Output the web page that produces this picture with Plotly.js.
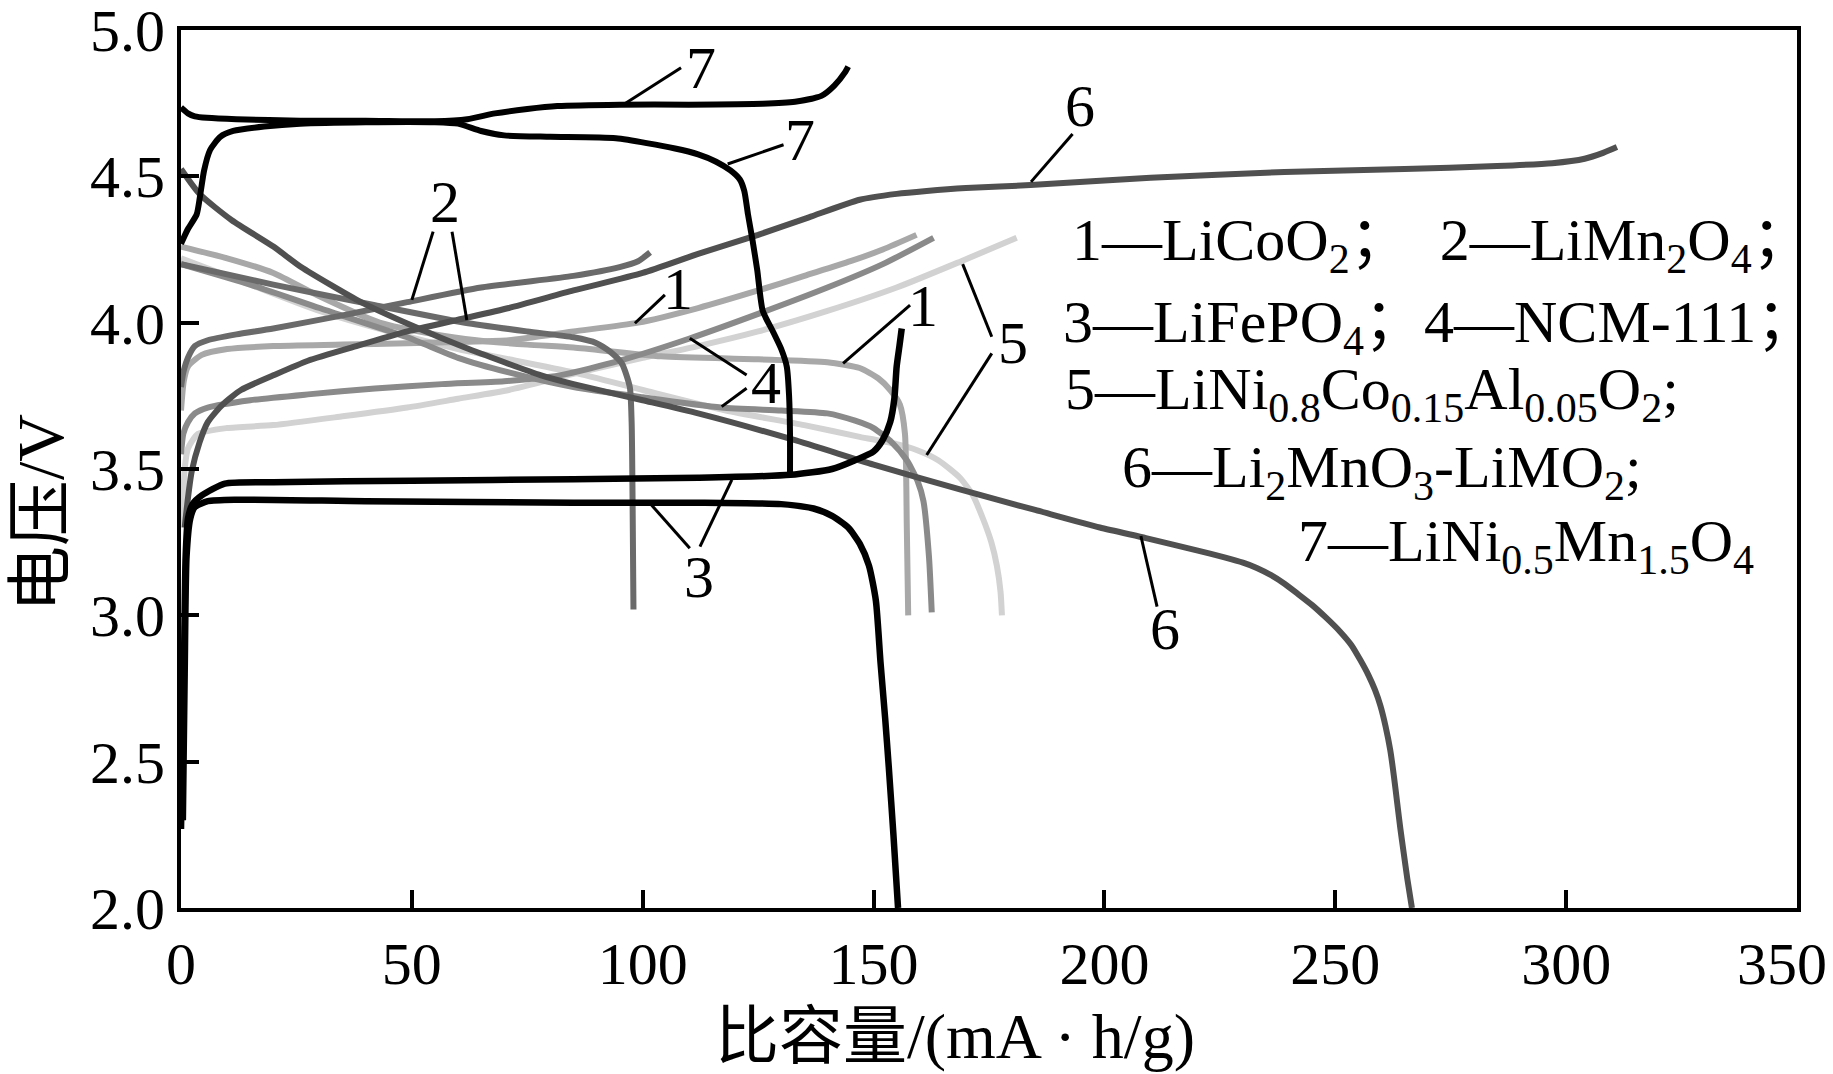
<!DOCTYPE html>
<html>
<head>
<meta charset="utf-8">
<script src="https://cdn.plot.ly/plotly-3.0.1.min.js"></script>
<style>html,body{margin:0;padding:0;background:#fff;}#chart{width:1833px;height:1074px;}</style>
</head>
<body>
<div id="chart"></div>
<script>
// ---- tick labels ----
const xTickVals = [0, 50, 100, 150, 200, 250, 300, 350];
const xTickText = ['0', '50', '100', '150', '200', '250', '300', '350\u00a0\u00a0'];
const yTickVals = [2.0, 2.5, 3.0, 3.5, 4.0, 4.5, 5.0];
const yTickText = ['2.0', '2.5', '3.0', '3.5', '4.0', '4.5', '5.0'];
const xTitle = '比容量/(mA · h/g)';
const yTitle = '电压/V';

// ---- 1: LiCoO2 ----
const licoo2ChargeX = [0, 0.6, 1.5, 4.5, 10, 20, 35, 49, 62, 71, 85, 99, 112, 125, 135, 145, 152, 159.3];
const licoo2ChargeY = [3.70, 3.80, 3.85, 3.89, 3.91, 3.92, 3.925, 3.93, 3.935, 3.94, 3.97, 4.00, 4.05, 4.11, 4.16, 4.21, 4.25, 4.30];
const licoo2DischargeX = [0, 10, 20, 30, 43, 55, 64, 75, 85, 104, 125, 140, 147, 151, 153.6, 155.7, 156.8, 157.2, 157.5];
const licoo2DischargeY = [4.26, 4.22, 4.17, 4.09, 4.00, 3.96, 3.94, 3.925, 3.915, 3.885, 3.875, 3.865, 3.845, 3.81, 3.77, 3.72, 3.62, 3.30, 3.00];

// ---- 2: LiMn2O4 ----
const limn2o4ChargeX = [0, 0.5, 1.5, 3, 5.8, 12, 20, 35, 49, 65, 85, 95, 99, 101.6];
const limn2o4ChargeY = [3.78, 3.83, 3.88, 3.92, 3.94, 3.96, 3.98, 4.025, 4.07, 4.12, 4.16, 4.19, 4.21, 4.24];
const limn2o4DischargeX = [0, 20, 42, 61.5, 75, 85, 90, 93, 95.5, 97.2, 97.6, 97.8, 98.0];
const limn2o4DischargeY = [4.20, 4.13, 4.06, 4.00, 3.97, 3.95, 3.93, 3.90, 3.86, 3.78, 3.66, 3.40, 3.02];

// ---- 3: LiFePO4 ----
const lfpChargeX = [0, 0.3, 0.7, 1, 1.5, 2.5, 4.5, 9.5, 20, 50, 85, 112, 132, 141, 146, 150, 152, 153.6, 154.5, 155, 155.6, 156.1];
const lfpChargeY = [2.27, 2.5, 2.9, 3.2, 3.33, 3.38, 3.41, 3.45, 3.455, 3.46, 3.465, 3.47, 3.48, 3.50, 3.53, 3.56, 3.60, 3.66, 3.74, 3.85, 3.92, 3.98];
const lfpDischargeX = [0.4, 0.8, 1.2, 2, 3, 5.8, 12, 40, 85, 112, 130, 137, 141, 144.5, 147, 149, 150.5, 151.5, 152.5, 153.3, 154.3, 155.3];
const lfpDischargeY = [2.3, 2.8, 3.2, 3.33, 3.37, 3.39, 3.395, 3.39, 3.385, 3.385, 3.38, 3.365, 3.34, 3.30, 3.245, 3.17, 3.05, 2.84, 2.65, 2.48, 2.25, 2.0];

// ---- 4: NCM-111 ----
const ncmChargeX = [0, 0.5, 1.5, 3, 5.8, 15, 27.5, 42, 56.5, 70, 82, 95, 110, 125, 140, 152, 163];
const ncmChargeY = [3.55, 3.62, 3.66, 3.69, 3.71, 3.735, 3.755, 3.775, 3.79, 3.80, 3.82, 3.87, 3.945, 4.03, 4.12, 4.20, 4.29];
const ncmDischargeX = [0, 15, 30, 49, 60, 71, 85, 100, 117, 130, 140, 146, 150, 154, 157.2, 159.5, 160.8, 162, 162.6];
const ncmDischargeY = [4.20, 4.13, 4.05, 3.95, 3.88, 3.83, 3.78, 3.745, 3.71, 3.70, 3.69, 3.665, 3.64, 3.59, 3.53, 3.46, 3.39, 3.2, 3.01];

// ---- 5: NCA ----
const ncaChargeX = [0.3, 0.8, 1.5, 3.7, 10, 20, 35, 49, 60, 71, 85, 100, 112, 125, 140, 155, 169, 181];
const ncaChargeY = [3.30, 3.50, 3.57, 3.62, 3.64, 3.65, 3.68, 3.71, 3.74, 3.77, 3.825, 3.88, 3.92, 3.97, 4.04, 4.12, 4.21, 4.29];
const ncaDischargeX = [0, 15, 30, 45, 60, 85, 100, 118, 135, 147, 155, 159.3, 164, 168.7, 171.5, 173.7, 175.5, 176.7, 177.5, 177.8];
const ncaDischargeY = [4.22, 4.13, 4.04, 3.97, 3.91, 3.83, 3.77, 3.70, 3.65, 3.61, 3.585, 3.565, 3.53, 3.47, 3.41, 3.33, 3.25, 3.17, 3.08, 3.00];

// ---- 6: Li2MnO3-LiMO2 ----
const lrChargeX = [0.8, 1.5, 2.3, 4, 5.8, 9, 13, 20, 27.5, 38, 49, 60, 71, 85, 100, 112, 125, 136, 147, 155, 161.5, 170, 184, 210, 239, 265, 285, 297, 304, 308, 311];
const lrChargeY = [3.30, 3.40, 3.49, 3.59, 3.66, 3.72, 3.77, 3.82, 3.87, 3.92, 3.97, 4.01, 4.05, 4.11, 4.17, 4.235, 4.30, 4.36, 4.42, 4.44, 4.45, 4.46, 4.47, 4.495, 4.515, 4.525, 4.535, 4.545, 4.56, 4.58, 4.60];
const lrDischargeX = [0, 4, 11, 20, 26, 39, 50, 61.5, 78, 85, 100, 112, 132.6, 150, 168.7, 185, 199, 209, 220, 226, 230, 233, 236, 239, 242, 245, 248, 251, 253.5, 255.4, 257.2, 258.6, 259.8, 260.9, 261.9, 262.7, 263.4, 264.1, 264.8, 265.6, 266.6];
const lrDischargeY = [4.525, 4.44, 4.35, 4.26, 4.19, 4.07, 3.99, 3.915, 3.82, 3.79, 3.735, 3.69, 3.60, 3.515, 3.43, 3.36, 3.30, 3.264, 3.222, 3.198, 3.180, 3.162, 3.138, 3.108, 3.072, 3.035, 2.992, 2.945, 2.898, 2.848, 2.795, 2.745, 2.69, 2.62, 2.54, 2.45, 2.36, 2.27, 2.19, 2.10, 2.0];

// ---- 7: LiNi0.5Mn1.5O4 ----
const lnmoChargeX = [0, 1.5, 3, 5.6, 12, 25.8, 40, 55, 62, 68, 75, 81.5, 95, 110, 126, 133, 138.7, 141.5, 143.8, 144.5];
const lnmoChargeY = [4.735, 4.715, 4.705, 4.70, 4.695, 4.69, 4.69, 4.688, 4.695, 4.715, 4.73, 4.74, 4.745, 4.745, 4.748, 4.755, 4.775, 4.81, 4.855, 4.875];
const lnmoDischargeX = [0, 1.5, 3.4, 4.1, 5, 6.3, 8.5, 11.3, 18, 25.8, 40, 55, 60, 65, 70, 80, 94.2, 107, 112, 115.9, 119, 121, 122, 122.8, 123.8, 124.8, 126, 128.2, 130, 131.2, 131.7, 131.9, 131.9];
const lnmoDischargeY = [4.27, 4.32, 4.37, 4.43, 4.52, 4.59, 4.635, 4.655, 4.67, 4.68, 4.685, 4.685, 4.68, 4.655, 4.64, 4.635, 4.63, 4.595, 4.575, 4.55, 4.52, 4.49, 4.45, 4.37, 4.28, 4.18, 4.04, 3.97, 3.91, 3.85, 3.75, 3.62, 3.49];

// ---- legend text lines ----
const legendLines = [
  '1—LiCoO<sub>2</sub>；  2—LiMn<sub>2</sub>O<sub>4</sub>；',
  '3—LiFePO<sub>4</sub>；4—NCM-111；',
  '5—LiNi<sub>0.8</sub>Co<sub>0.15</sub>Al<sub>0.05</sub>O<sub>2</sub>;',
  '6—Li<sub>2</sub>MnO<sub>3</sub>-LiMO<sub>2</sub>;',
  '7—LiNi<sub>0.5</sub>Mn<sub>1.5</sub>O<sub>4</sub>'
];
const legendPos = [[192.5, 4.268], [190.6, 3.987], [191, 3.758], [203.4, 3.492], [241.5, 3.24]];

// ---- curve labels and leaders ----
const labelTexts = ['7', '7', '6', '2', '1', '1', '4', '5', '3', '6'];
const labelPos = [[112.6, 4.87], [134.1, 4.624], [194.7, 4.742], [57.2, 4.411], [107.7, 4.114], [160.8, 4.058], [126.7, 3.793], [180.1, 3.932], [112.2, 3.13], [213.1, 2.952]];
const leaders = [
  [96.2, 4.749, 108.3, 4.871],
  [118.4, 4.542, 130.5, 4.608],
  [184.1, 4.481, 193.1, 4.645],
  [50.0, 4.078, 54.6, 4.311],
  [61.9, 4.009, 58.7, 4.311],
  [98.3, 3.998, 104.8, 4.095],
  [143.4, 3.861, 157.9, 4.06],
  [110.2, 3.947, 122.5, 3.821],
  [117.1, 3.713, 122.5, 3.776],
  [169.3, 4.2, 175.6, 3.952],
  [175.6, 3.895, 161.5, 3.548],
  [101.9, 3.377, 110.2, 3.229],
  [119.3, 3.463, 112.4, 3.235],
  [207.9, 3.271, 211.4, 3.03]
];

const FONT = '"Liberation Serif", "Times New Roman", "Noto Sans CJK SC", serif';
const C1 = '#a8a8a8', C2 = '#6a6a6a', C3 = '#000000', C4 = '#8a8a8a', C5 = '#d2d2d2', C6 = '#505050', C7 = '#000000';

function tr(x, y, color, width) {
  return {x: x, y: y, type: 'scatter', mode: 'lines',
    line: {color: color, width: width, shape: 'spline', smoothing: 0.6},
    showlegend: false, hoverinfo: 'skip'};
}

const data = [
  tr(ncaChargeX, ncaChargeY, C5, 6),
  tr(ncaDischargeX, ncaDischargeY, C5, 6),
  tr(licoo2ChargeX, licoo2ChargeY, C1, 6),
  tr(licoo2DischargeX, licoo2DischargeY, C1, 6),
  tr(ncmChargeX, ncmChargeY, C4, 6),
  tr(ncmDischargeX, ncmDischargeY, C4, 6),
  tr(limn2o4ChargeX, limn2o4ChargeY, C2, 6),
  tr(limn2o4DischargeX, limn2o4DischargeY, C2, 6),
  tr(lrChargeX, lrChargeY, C6, 6),
  tr(lrDischargeX, lrDischargeY, C6, 6),
  tr(lfpChargeX, lfpChargeY, C3, 6.5),
  tr(lfpDischargeX, lfpDischargeY, C3, 6.5),
  tr(lnmoChargeX, lnmoChargeY, C7, 6),
  tr(lnmoDischargeX, lnmoDischargeY, C7, 6)
];

const shapes = leaders.map(function (l) {
  return {type: 'line', xref: 'x', yref: 'y', x0: l[0], y0: l[1], x1: l[2], y1: l[3],
    line: {color: '#000', width: 3}};
});

const annotations = [];
labelTexts.forEach(function (t, i) {
  annotations.push({x: labelPos[i][0], y: labelPos[i][1], xref: 'x', yref: 'y', text: t, showarrow: false,
    xanchor: 'center', yanchor: 'middle', font: {family: FONT, size: 60, color: '#000'}});
});
legendLines.forEach(function (t, i) {
  annotations.push({x: legendPos[i][0], y: legendPos[i][1], xref: 'x', yref: 'y', text: t, showarrow: false,
    xanchor: 'left', yanchor: 'middle', font: {family: FONT, size: 60, color: '#000'}});
});
// axis titles
annotations.push({x: 0.479, y: -0.146, xref: 'paper', yref: 'paper', text: xTitle, showarrow: false,
  xanchor: 'center', yanchor: 'middle', font: {family: FONT, size: 64, color: '#000'}});
annotations.push({x: -0.0865, y: 0.45, xref: 'paper', yref: 'paper', text: yTitle, showarrow: false,
  textangle: -90, xanchor: 'center', yanchor: 'middle', font: {family: FONT, size: 66, color: '#000'}});

const layout = {
  width: 1833, height: 1074,
  margin: {l: 181, r: 36, t: 30, b: 166},
  paper_bgcolor: '#fff', plot_bgcolor: '#fff',
  font: {family: FONT, color: '#000'},
  showlegend: false,
  xaxis: {
    range: [0, 350], tickmode: 'array', tickvals: xTickVals, ticktext: xTickText,
    ticks: 'inside', ticklen: 18, tickwidth: 4, tickcolor: '#000',
    showline: true, linewidth: 4, linecolor: '#000', mirror: true,
    showgrid: false, zeroline: false, ticklabeloverflow: 'allow',
    tickfont: {family: FONT, size: 60, color: '#000'}
  },
  yaxis: {
    range: [2, 5], tickmode: 'array', tickvals: yTickVals, ticktext: yTickText,
    ticks: 'inside', ticklen: 18, tickwidth: 4, tickcolor: '#000',
    showline: true, linewidth: 4, linecolor: '#000', mirror: true,
    showgrid: false, zeroline: false, ticklabeloverflow: 'allow',
    tickfont: {family: FONT, size: 60, color: '#000'}
  },
  shapes: shapes,
  annotations: annotations
};

Plotly.newPlot('chart', data, layout, {displayModeBar: false, staticPlot: true});
</script>
</body>
</html>
